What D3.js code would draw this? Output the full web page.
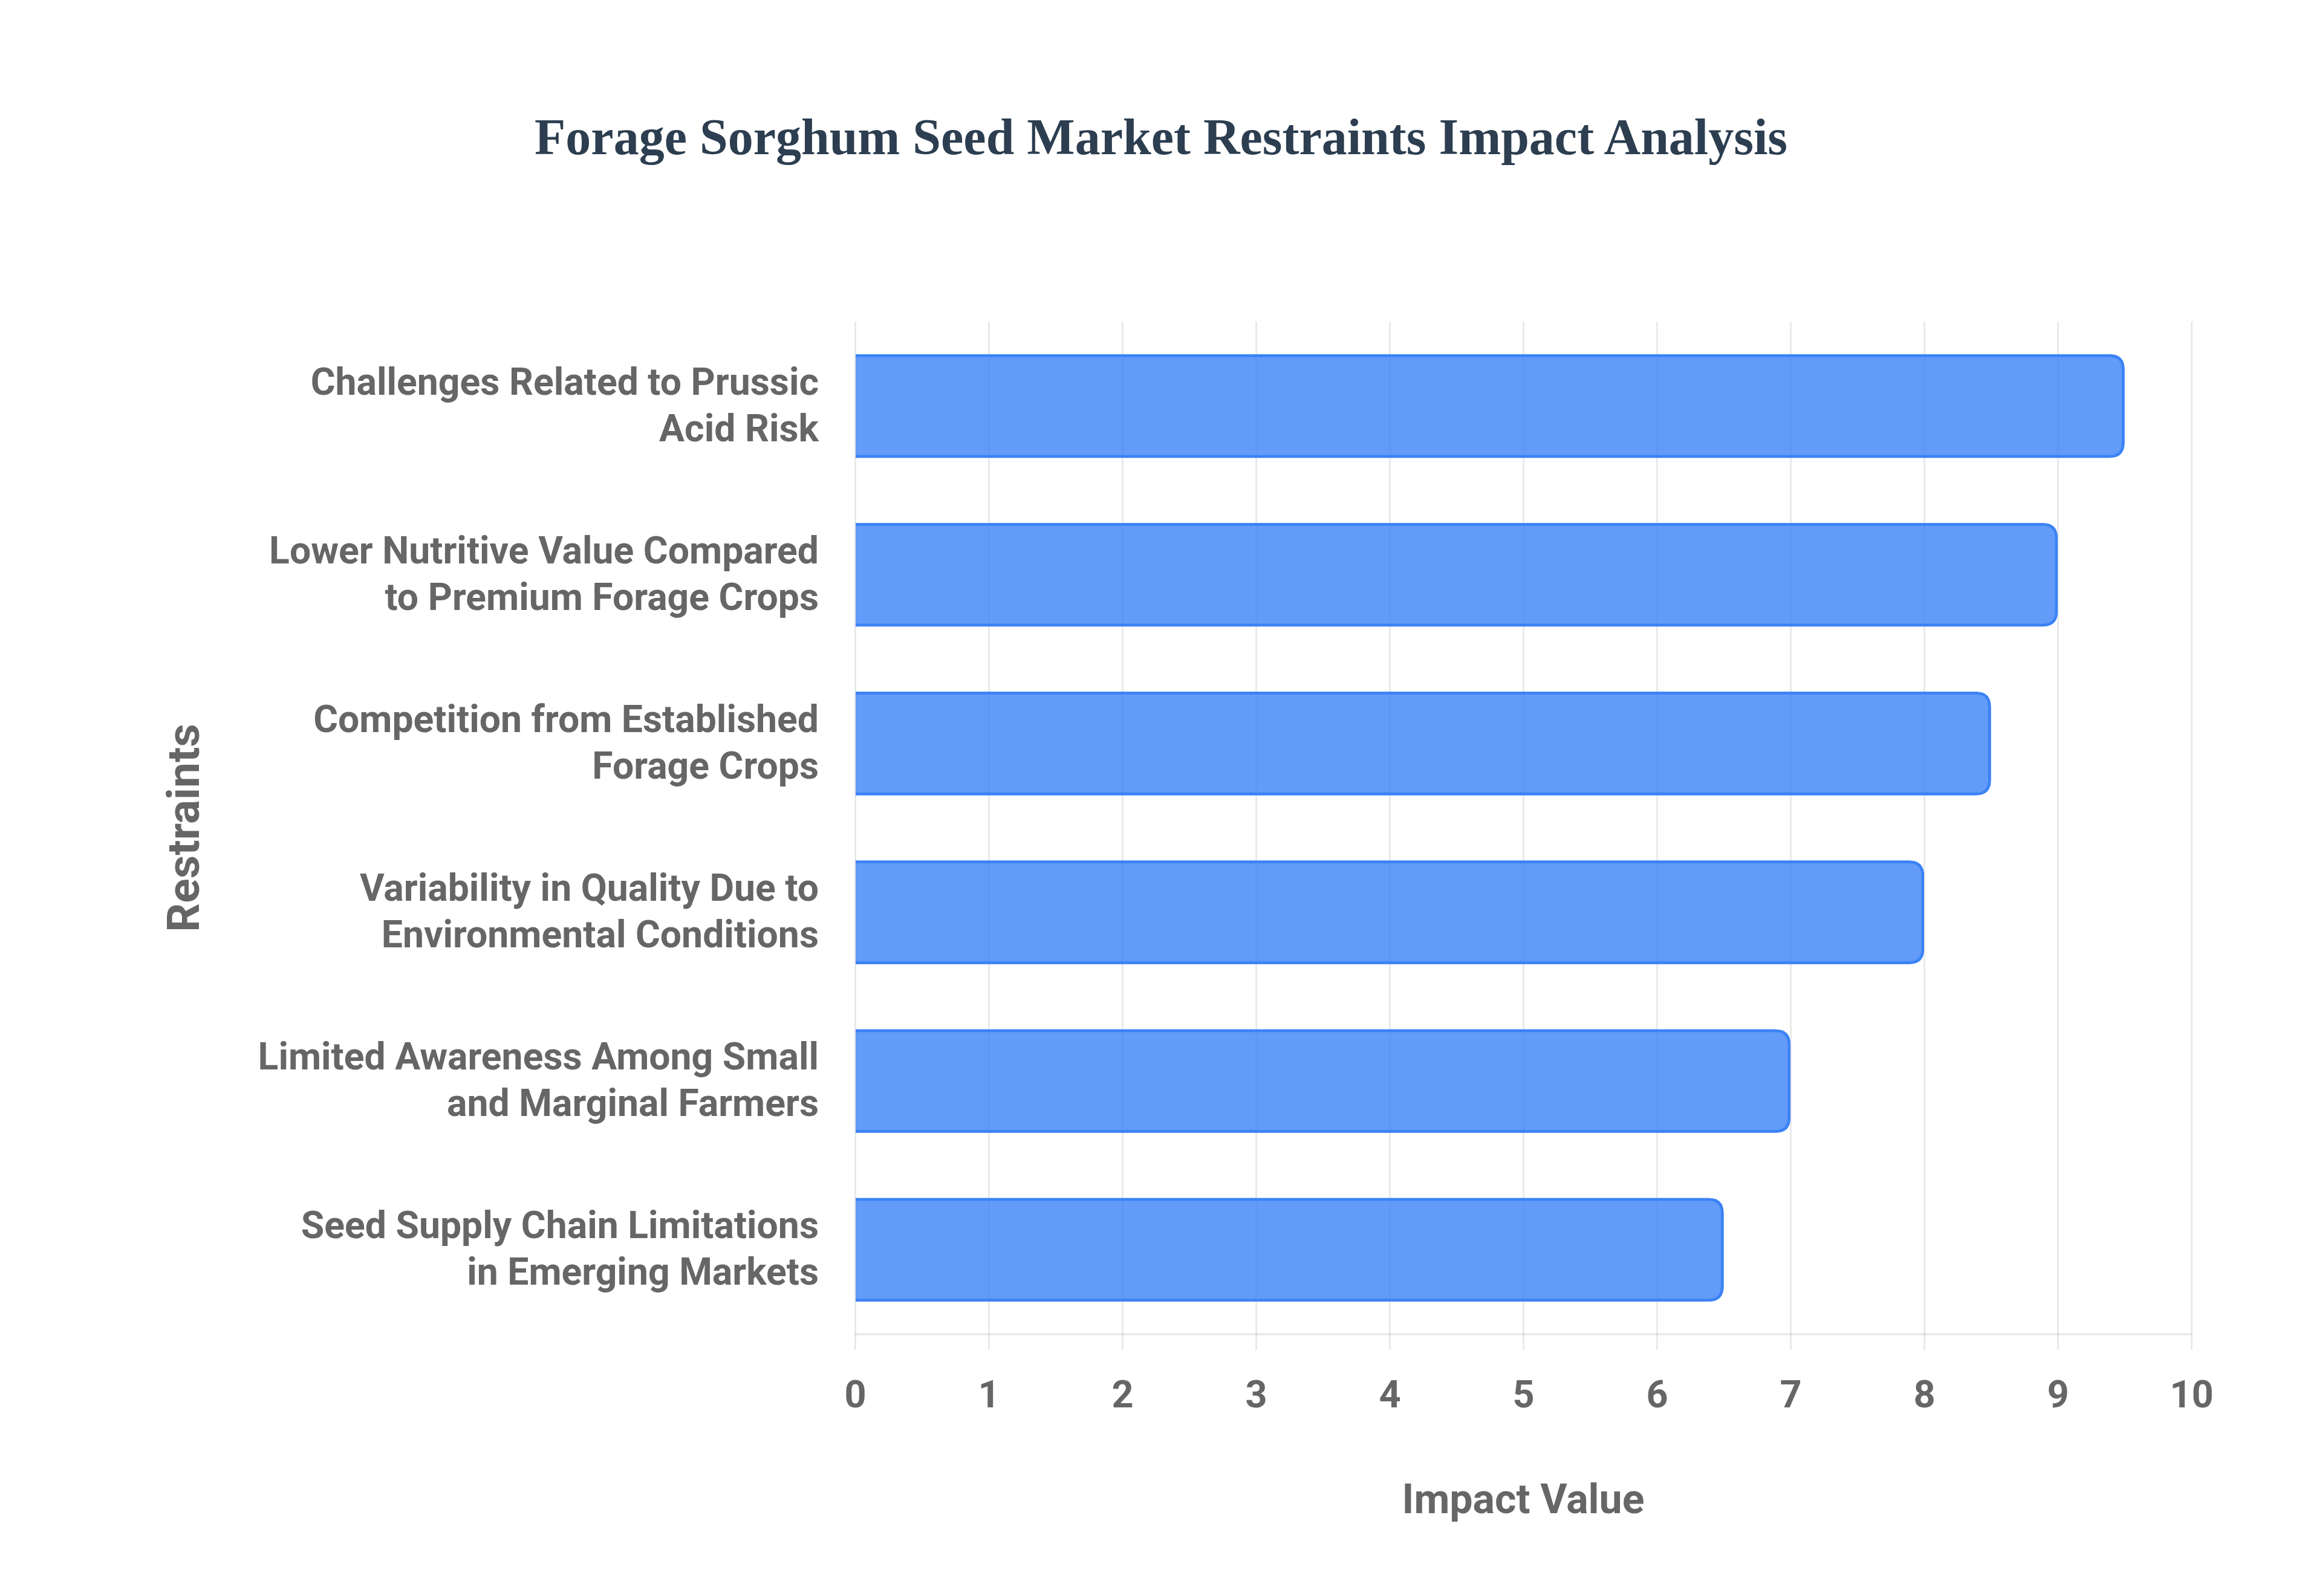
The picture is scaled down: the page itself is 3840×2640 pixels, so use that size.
<!DOCTYPE html>
<html>
<head>
<meta charset="utf-8">
<script src="https://cdn.jsdelivr.net/npm/d3@7/dist/d3.min.js"></script>
<style>
  html, body { margin: 0; padding: 0; background: #ffffff; }
  svg { display: block; }
</style>
</head>
<body>
<svg id="chart" width="3840" height="2640"></svg>
<script>
// ---- data ----
const chartTitle = "Forage Sorghum Seed Market Restraints Impact Analysis";
const categories = [
  ["Challenges Related to Prussic", "Acid Risk"],
  ["Lower Nutritive Value Compared", "to Premium Forage Crops"],
  ["Competition from Established", "Forage Crops"],
  ["Variability in Quality Due to", "Environmental Conditions"],
  ["Limited Awareness Among Small", "and Marginal Farmers"],
  ["Seed Supply Chain Limitations", "in Emerging Markets"]
];
const impactValues = [9.5, 9, 8.5, 8, 7, 6.5];
const xTicks = [0, 1, 2, 3, 4, 5, 6, 7, 8, 9, 10];
const xAxisTitle = "Impact Value";
const yAxisTitle = "Restraints";

(function () {
// ---- layout ----
const svg = d3.select("#chart");
const pLeft = 1414, pRight = 3624, pTop = 532, pBottom = 2207;
const tickExt = 26;
const sans = "Roboto, 'Liberation Sans', Arial, sans-serif";
const textGray = "#666666";
const gridColor = "rgba(0,0,0,0.1)";

const x = d3.scaleLinear().domain([0, 10]).range([pLeft, pRight]);
const y = d3.scaleBand().domain(d3.range(categories.length)).range([pTop, pBottom]).paddingInner(0.387).paddingOuter(0.1935);

// title
svg.append("text")
  .attr("x", 1920).attr("y", 255)
  .attr("text-anchor", "middle")
  .attr("font-family", "'Liberation Serif', 'Times New Roman', serif")
  .attr("font-weight", "bold")
  .attr("font-size", 84)
  .attr("fill", "#2c3e50")
  .text(chartTitle);

// grid + x axis
const xAxis = d3.axisBottom(x)
  .tickValues(xTicks)
  .tickFormat(d3.format("d"))
  .tickSizeInner(-(pBottom + tickExt - pTop))
  .tickSizeOuter(0)
  .tickPadding(50);

const gx = svg.append("g")
  .attr("transform", `translate(0,${pBottom + tickExt})`)
  .call(xAxis);
gx.select(".domain").remove();
gx.selectAll(".tick line").attr("stroke", gridColor).attr("stroke-width", 2.5);
gx.selectAll(".tick text")
  .attr("font-family", sans)
  .attr("font-weight", "bold")
  .attr("font-size", 63)
  .attr("fill", textGray);

// bottom border line
svg.append("line")
  .attr("x1", x(0)).attr("x2", x(10))
  .attr("y1", pBottom).attr("y2", pBottom)
  .attr("stroke", gridColor).attr("stroke-width", 3);

// bars
const bw = 4.5, r = 25;
const bars = svg.append("g");
impactValues.forEach((v, i) => {
  const x0 = x(0) + 1, x1 = x(v), y0 = y(i), y1 = y(i) + y.bandwidth();
  const fill = `M${x0},${y0} L${x1 - r},${y0} Q${x1},${y0} ${x1},${y0 + r} L${x1},${y1 - r} Q${x1},${y1} ${x1 - r},${y1} L${x0},${y1} Z`;
  bars.append("path").attr("d", fill).attr("fill", "rgba(59,130,246,0.8)");
  const h = bw / 2;
  const sx1 = x1 - h, sy0 = y0 + h, sy1 = y1 - h, rr = r - h;
  const stroke = `M${x0},${sy0} L${sx1 - rr},${sy0} Q${sx1},${sy0} ${sx1},${sy0 + rr} L${sx1},${sy1 - rr} Q${sx1},${sy1} ${sx1 - rr},${sy1} L${x0},${sy1}`;
  bars.append("path").attr("d", stroke).attr("fill", "none")
    .attr("stroke", "#3b82f6").attr("stroke-width", bw);
});

// category labels
const labG = svg.append("g");
categories.forEach((lines, i) => {
  const cy = y(i) + y.bandwidth() / 2;
  const t = labG.append("text")
    .attr("text-anchor", "end")
    .attr("font-family", sans)
    .attr("font-weight", "bold")
    .attr("font-size", 62.5)
    .attr("fill", textGray);
  lines.forEach((ln, k) => {
    t.append("tspan").attr("x", 1354).attr("y", cy - 19 + k * 77).text(ln);
  });
});

// axis titles
svg.append("text")
  .attr("x", (pLeft + pRight) / 2).attr("y", 2503)
  .attr("text-anchor", "middle")
  .attr("font-family", sans).attr("font-weight", "bold")
  .attr("font-size", 68).attr("fill", textGray)
  .text(xAxisTitle);

svg.append("text")
  .attr("transform", `translate(329,${(pTop + pBottom) / 2}) rotate(-90)`)
  .attr("text-anchor", "middle")
  .attr("font-family", sans).attr("font-weight", "bold")
  .attr("font-size", 75).attr("fill", textGray)
  .text(yAxisTitle);
})();
</script>
</body>
</html>
